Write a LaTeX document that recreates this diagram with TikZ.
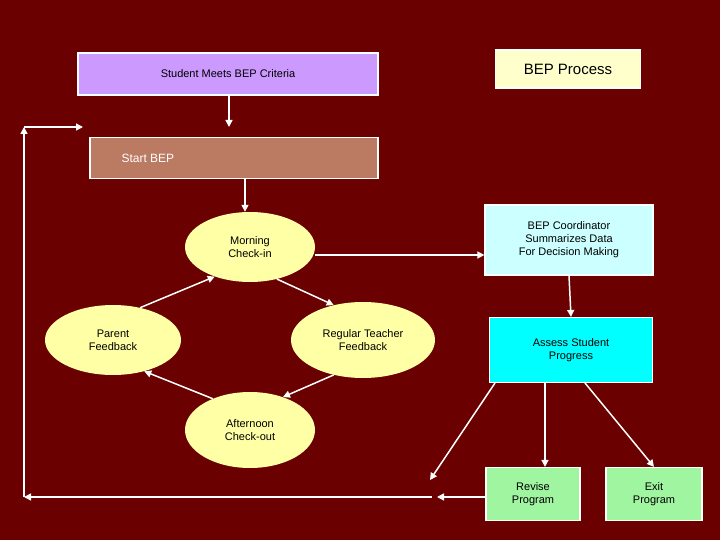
\documentclass[tikz,border=0pt]{standalone}
\usepackage{fontspec}
\setmainfont{Liberation Sans}
\usetikzlibrary{arrows.meta}
\definecolor{bg}{HTML}{6B0000}
\definecolor{lav}{HTML}{CC99FF}
\definecolor{pyel}{HTML}{FFFFCC}
\definecolor{brn}{HTML}{BB7A62}
\definecolor{ell}{HTML}{FFFFA6}
\definecolor{pcy}{HTML}{CCFFFF}
\definecolor{cy}{HTML}{00FFFF}
\definecolor{grn}{HTML}{A0F5A0}
\begin{document}
\begin{tikzpicture}[x=1pt,y=-1pt,
 box/.style={draw=white,line width=1.2pt,inner sep=0pt,font=\fontsize{11}{13}\selectfont,align=center},
 el/.style={ellipse,fill=ell,inner sep=0pt,font=\fontsize{11}{13}\selectfont,align=center},
 arr/.style={draw=white,line width=1.5pt,-{Triangle[length=7pt,width=7pt]}},
 ln/.style={draw=white,line width=1.5pt}]
\fill[bg] (0,0) rectangle (720,540);
\useasboundingbox (0,0) rectangle (720,540);
\usetikzlibrary{shapes.geometric}
\node[box,fill=lav,minimum width=300pt,minimum height=42pt] (smc) at (228,74) {Student Meets BEP Criteria};
\node[box,fill=pyel,minimum width=145pt,minimum height=38pt,font=\fontsize{15}{17}\selectfont] (bp) at (568,69) {BEP Process};
\node[box,fill=brn,minimum width=288pt,minimum height=41pt,text=white,font=\fontsize{12}{14}\selectfont] (sb) at (234,158) {};
\node[text=white,font=\fontsize{12}{14}\selectfont,anchor=west] (sbt) at (118,158) {Start BEP};
\node[el,minimum width=130pt,minimum height=70pt] (mc) at (250,247) {Morning\\Check-in};
\node[el,minimum width=136pt,minimum height=70pt] (pf) at (113,340) {Parent\\Feedback};
\node[el,minimum width=144pt,minimum height=76pt] (rt) at (363,340) {Regular Teacher\\Feedback};
\node[el,minimum width=130pt,minimum height=76pt] (ac) at (250,430) {Afternoon\\Check-out};
\node[box,fill=pcy,minimum width=168pt,minimum height=70pt] (co) at (569,240) {BEP Coordinator\\Summarizes Data\\For Decision Making};
\node[box,fill=cy,minimum width=163pt,minimum height=65pt] (as) at (571,350) {Assess Student\\Progress};
\node[box,fill=grn,minimum width=94pt,minimum height=53pt] (rp) at (533,494) {Revise\\Program};
\node[box,fill=grn,minimum width=96pt,minimum height=53pt] (ep) at (654,494) {Exit\\Program};
\coordinate (j) at (430,480);
\coordinate (bl) at (24,497);
\coordinate (tl) at (24,127);
\coordinate (tr) at (83,127);
\coordinate (m1) at (437,497);
\coordinate (m2) at (432,497);
\draw[arr] (smc.south -| 229,0) -- (229,127);
\draw[arr] (245,179) -- (mc.north -| 245,0);
\draw[arr] (mc.east |- 0,255) -- (co.west |- 0,255);
\draw[arr] (co.south) -- (as.north);
\draw[arr] (545,383) -- (rp.north -| 545,0);
\draw[arr] (585,383) -- (ep.north);
\draw[arr] (495,383) -- (j);
\draw[arr] (rp.west |- 0,497) -- (m1);
\draw[arr] (m2) -- (bl);
\draw[arr] (24,497) -- (tl);
\draw[arr] (tl) -- (tr);
\draw[arr] (mc.-50) -- (rt.130);
\draw[arr] (rt.-130) -- (ac.45);
\draw[arr] (ac.140) -- (pf.-45);
\draw[arr] (pf.50) -- (mc.-140);
\end{tikzpicture}
\end{document}
